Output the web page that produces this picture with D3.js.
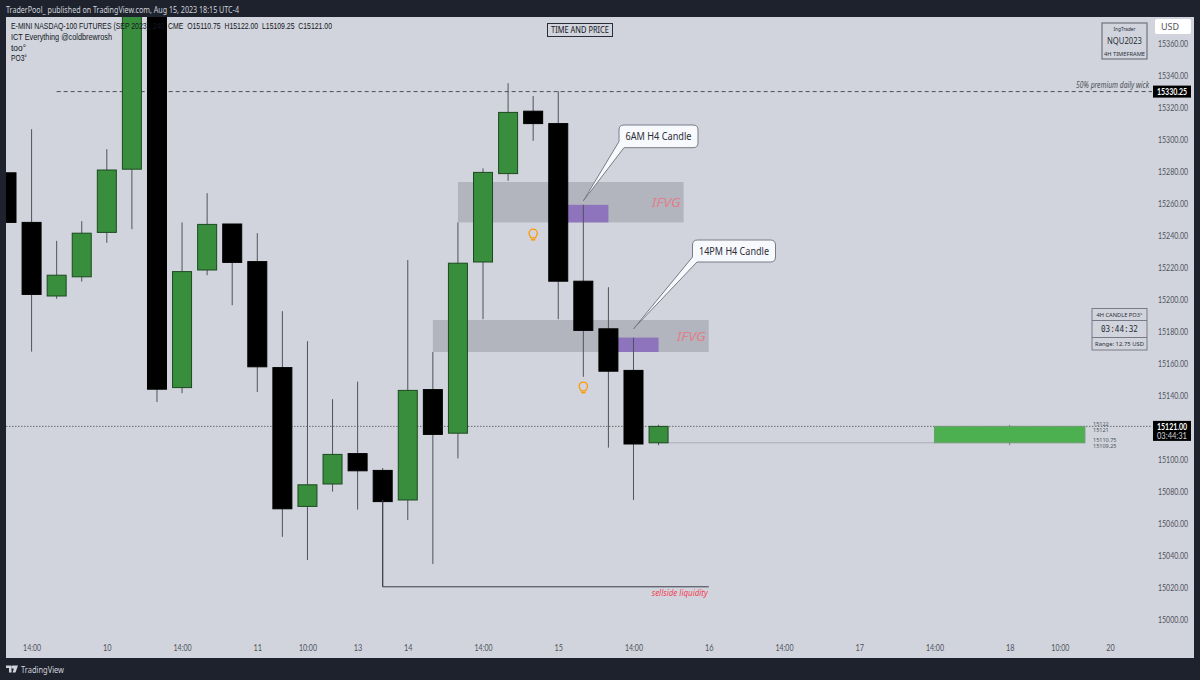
<!DOCTYPE html>
<html><head><meta charset="utf-8">
<script src="https://cdn.jsdelivr.net/npm/d3@7/dist/d3.min.js"></script>
<style>html,body{margin:0;padding:0;background:#1e222d;overflow:hidden}svg{display:block}text{font-family:"Noto Sans",sans-serif}</style>
</head><body><svg id="c" width="1200" height="680"></svg>
<script>
// candle values, index 0..26 on a 4H time axis
const opens  = [15279.5,15248.5,15202.5,15214.5,15242.25,15281.75,15395,15145.25,15218.75,15247.5,15224,15157.75,15071,15085,15104,15093.5,15075,15144,15116.75,15223.75,15279,15318,15310.25,15211.75,15182,15156,15110.75];
const highs  = [15279.5,15306.75,15237,15249.25,15294.25,15400,15400,15248.5,15266.75,15247.5,15241.75,15193,15174.25,15138,15149,15095,15225,15167.5,15248.5,15282.25,15335.5,15327.5,15330.5,15259.5,15208,15176.5,15122];
const lows   = [15248.5,15167.75,15200.75,15211.5,15235.75,15244.25,15136.25,15141.75,15215.5,15196.75,15142.5,15052,15037.5,15080.25,15069,15020.75,15062.5,15035,15101,15188,15274.5,15299.5,15188,15152,15107.75,15075,15109.25];
const closes = [15248.5,15203.5,15215.5,15241.75,15281.25,15395,15144.25,15217.75,15247.25,15223.5,15158.25,15069.5,15084.5,15103.5,15093.25,15074,15143.5,15116,15223,15279.75,15317.25,15310.25,15211.75,15181,15155.5,15110,15121];
const priceTicks = [15000,15020,15040,15060,15080,15100,15140,15160,15180,15200,15220,15240,15260,15280,15300,15320,15340,15360];
const timeTickIndex = [1,4,7,10,12,14,16,19,22,25,28,31,34,37,40,42,44];
const timeTickLabel = ["14:00","10","14:00","11","10:00","13","14","14:00","15","14:00","16","14:00","17","14:00","18","10:00","20"];
const zones = [{i0:18,i1:27,hi:15273.75,lo:15248.5,label:"IFVG"},{i0:17,i1:28,hi:15187.5,lo:15167.5,label:"IFVG"}];
const gaps = [{i0:22,i1:24,hi:15259.5,lo:15248.5},{i0:24,i1:26,hi:15176.5,lo:15167.5}];
const bulbs = [{i:21,p:15240.5},{i:23,p:15145}];
const lastClose = 15121, premium = 15330.25, sellside = 15020.75;

const svg = d3.select("#c");
const DARK="#1e222d", BG="#d1d4dc";
const AXISFONT='Lato,sans-serif';
svg.append("rect").attr("width",1200).attr("height",680).attr("fill",DARK);
svg.append("rect").attr("x",6).attr("y",17).attr("width",1188).attr("height",641).attr("fill",BG);
svg.append("defs").append("clipPath").attr("id","pane").append("rect").attr("x",6).attr("y",17).attr("width",1146).attr("height",615);

const x = d3.scaleLinear().domain([0,44]).range([6.5,1110]);
const y = d3.scaleLinear().domain([15360,15000]).range([44,620]);
const pane = svg.append("g").attr("clip-path","url(#pane)");
function label(g,t,xx,yy,size,fill,w,anchor){
  const n=g.append("text").text(t).attr("x",xx).attr("y",yy).attr("font-size",size).attr("fill",fill).attr("text-anchor",anchor||"start");
  if(w) n.attr("textLength",w).attr("lengthAdjust","spacingAndGlyphs");
  return n;
}

// horizontal reference lines
pane.append("line").attr("x1",x(2)).attr("x2",1152).attr("y1",y(premium)).attr("y2",y(premium)).attr("stroke","#4a4d57").attr("stroke-width",1).attr("stroke-dasharray","4 3");
pane.append("line").attr("x1",6).attr("x2",1152).attr("y1",y(lastClose)).attr("y2",y(lastClose)).attr("stroke","#50535c").attr("stroke-width",0.8).attr("stroke-dasharray","1.5 1.5");

// zones
pane.selectAll(".z").data(zones).join("rect").attr("x",d=>x(d.i0)).attr("width",d=>x(d.i1)-x(d.i0)).attr("y",d=>y(d.hi)).attr("height",d=>y(d.lo)-y(d.hi)).attr("fill","#b2b5be");
pane.selectAll(".g").data(gaps).join("rect").attr("x",d=>x(d.i0)).attr("width",d=>x(d.i1)-x(d.i0)).attr("y",d=>y(d.hi)).attr("height",d=>y(d.lo)-y(d.hi)).attr("fill","#8e74bc");
zones.forEach(d=>label(pane,d.label,x(d.i1)-3,(y(d.hi)+y(d.lo))/2+4.5,12.5,"#e0808c",29,"end").attr("font-style","italic"));

// projected candle on the right
const fwd = {i0:37,i1:43};
pane.append("line").attr("x1",x(26)).attr("x2",x(37)).attr("y1",y(opens[26])).attr("y2",y(opens[26])).attr("stroke","#a9acb6");
pane.append("line").attr("x1",x(40)).attr("x2",x(40)).attr("y1",y(highs[26])).attr("y2",y(lows[26])).attr("stroke","#787b86");
pane.append("rect").attr("x",x(fwd.i0)).attr("width",x(fwd.i1)-x(fwd.i0)).attr("y",y(lastClose)).attr("height",y(opens[26])-y(lastClose)).attr("fill","#4caf50").attr("stroke","#6f9b72").attr("stroke-width",1);

// candles
const candles = d3.range(opens.length).map(i=>({i,o:opens[i],h:highs[i],l:lows[i],c:closes[i]}));
const bodyW = 19;
pane.selectAll(".w").data(candles).join("line").attr("x1",d=>x(d.i)).attr("x2",d=>x(d.i)).attr("y1",d=>y(d.h)).attr("y2",d=>y(d.l)).attr("stroke","#50535c").attr("stroke-width",1);
pane.selectAll(".b").data(candles).join("rect").attr("x",d=>x(d.i)-bodyW/2).attr("width",bodyW)
 .attr("y",d=>y(Math.max(d.o,d.c))).attr("height",d=>Math.abs(y(d.o)-y(d.c)))
 .attr("fill",d=>d.c>d.o?"#388e3c":"#000").attr("stroke",d=>d.c>d.o?"#1c4a20":"#000").attr("stroke-width",1);

// sellside line
pane.append("path").attr("d",`M${x(15)},${y(15075)}V${y(sellside)}H${x(28)}`).attr("fill","none").attr("stroke","#3a3d47").attr("stroke-width",1);
label(pane,"sellside liquidity",x(28)-1,y(sellside)+9,8,"#f23f55",56,"end").attr("font-style","italic");
label(pane,"50% premium daily wick",1149,y(premium)-4,8,"#4a4d57",73,"end").attr("font-style","italic");

// bulbs
const bulbG = pane.selectAll(".bulb").data(bulbs).join("g").attr("transform",d=>`translate(${x(d.i)},${y(d.p)}) scale(1.15)`);
bulbG.append("path").attr("d","M-2,2.4C-2.2,1 -3.6,.3 -3.6,-1.6A3.6,3.6 0 0 1 3.6,-1.6C3.6,.3 2.2,1 2,2.4Z").attr("fill","none").attr("stroke","#ff9800").attr("stroke-width",1.1);
bulbG.append("line").attr("x1",-1.8).attr("x2",1.8).attr("y1",4).attr("y2",4).attr("stroke","#ff9800").attr("stroke-width",1.3);

// callouts
function callout(t,cx,cy,w,h,tx,ty,pa,pb,tw){
  const r=5,xl=cx,xr=cx+w,yt=cy,yb=cy+h;
  svg.append("path").attr("d",`M${xl+r},${yt}H${xr-r}Q${xr},${yt} ${xr},${yt+r}V${yb-r}Q${xr},${yb} ${xr-r},${yb}H${pb}L${tx},${ty}L${xl},${pa}V${yt+r}Q${xl},${yt} ${xl+r},${yt}Z`)
   .attr("fill","#f8f9fd").attr("stroke","#787b86").attr("stroke-width",1);
  label(svg,t,cx+w/2,cy+h/2+3.6,10,"#2a2e39",tw,"middle");
}
callout("6AM H4 Candle",619,125,79,22.7,x(23),y(15262),141.5,624,66);
callout("14PM H4 Candle",692.5,240,83,22,x(25),y(15182),257,697,70);

// price axis
const ya = svg.append("g").attr("transform","translate(1152,0)").call(d3.axisRight(y).tickValues(priceTicks).tickSize(0).tickPadding(6).tickFormat(d3.format(".2f")));
ya.select(".domain").remove();
ya.selectAll("text").attr("font-size",8.8).attr("fill","#50535c").style("font-family",AXISFONT).attr("textLength",30).attr("lengthAdjust","spacingAndGlyphs");
// time axis
const xa = svg.append("g").attr("transform","translate(0,641)").call(d3.axisBottom(x).tickValues(timeTickIndex).tickSize(0).tickPadding(4).tickFormat((d,i)=>timeTickLabel[i]));
xa.select(".domain").remove();
xa.selectAll("text").attr("font-size",8.8).attr("fill","#50535c").style("font-family",AXISFONT).attr("textLength",(d,i)=>timeTickLabel[i].length>2?18:8.5).attr("lengthAdjust","spacingAndGlyphs");

// price tags
function tag(yt,h,lines){
  svg.append("rect").attr("x",1153).attr("y",yt).attr("width",38).attr("height",h).attr("fill","#000");
  lines.forEach((l,k)=>label(svg,l.t,1172,yt+9+k*9.5,8.8,l.b?"#fff":"#d1d4dc",30,"middle").attr("font-weight",l.b?"bold":"normal").style("font-family",AXISFONT));
}
tag(y(premium)-6,12,[{t:"15330.25",b:1}]);
tag(y(lastClose)-5.5,20,[{t:"15121.00",b:1},{t:"03:44:31",b:0}]);
svg.append("rect").attr("x",1155).attr("y",19).attr("width",36).attr("height",15).attr("rx",2).attr("fill","#fff");
label(svg,"USD",1161,30,9,"#50535c");

// projected candle prices
label(svg,"15122",1093,425.5,5.5,"#50535c");
label(svg,"15121",1093,432,5.5,"#50535c");
label(svg,"15110.75",1093,441.5,5.5,"#50535c");
label(svg,"15109.25",1093,448,5.5,"#50535c");

// legend
const ink="#131722";
label(svg,"E-MINI NASDAQ-100 FUTURES (SEP 2023), 240, CME  O15110.75  H15122.00  L15109.25  C15121.00",11,29,9,ink,321).style("white-space","pre").style("font-family","Liberation Sans,sans-serif");
label(svg,"ICT Everything @coldbrewrosh",11,40,9,ink,101).style("font-family","Liberation Sans,sans-serif");
label(svg,"too°",11,50.5,9,ink,15).style("font-family","Liberation Sans,sans-serif");
label(svg,"PO3°",11,61,9,ink,16).style("font-family","Liberation Sans,sans-serif");

// header / footer
label(svg,"TraderPool_ published on TradingView.com, Aug 15, 2023 18:15 UTC-4",6,12.5,9,"#d1d4dc",233);
svg.append("path").attr("d","M6,665.5H11.5V672.5H9V668H6ZM12.5,665.5H18L15.5,672.5H12.5L14,668.5A1.4,1.4 0 1 1 12.5,665.5Z").attr("fill","#d1d4dc");
label(svg,"TradingView",21,672.5,9.5,"#d1d4dc",43);

// title box
svg.append("rect").attr("x",547.5).attr("y",23.5).attr("width",65).attr("height",13).attr("fill","none").attr("stroke","#2a2e39");
label(svg,"TIME AND PRICE",580,33.3,8.5,"#131722",58,"middle");

// top-right box
svg.append("rect").attr("x",1102).attr("y",23).attr("width",45).attr("height",36).attr("fill","none").attr("stroke","#787b86").attr("stroke-width",1.3);
label(svg,"IngTrader",1124.5,30.5,6,"#2a2e39",22,"middle");
label(svg,"NQU2023",1124.5,44,9,"#2a2e39",35,"middle");
label(svg,"4H TIMEFRAME",1124.5,55.5,6,"#2a2e39",41,"middle");

// table
svg.append("rect").attr("x",1092).attr("y",308.5).attr("width",55).attr("height",41.5).attr("fill","none").attr("stroke","#787b86").attr("stroke-width",1);
[320.5,337.5].forEach(v=>svg.append("line").attr("x1",1092).attr("x2",1147).attr("y1",v).attr("y2",v).attr("stroke","#787b86"));
label(svg,"4H CANDLE PO3°",1119.5,317,6,"#2a2e39",46,"middle");
label(svg,"03:44:32",1119.5,331.5,8.5,"#2a2e39",37,"middle").style("font-family","'DejaVu Sans Mono',monospace");
label(svg,"Range: 12.75 USD",1119.5,346,6,"#2a2e39",49,"middle");
</script></body></html>
